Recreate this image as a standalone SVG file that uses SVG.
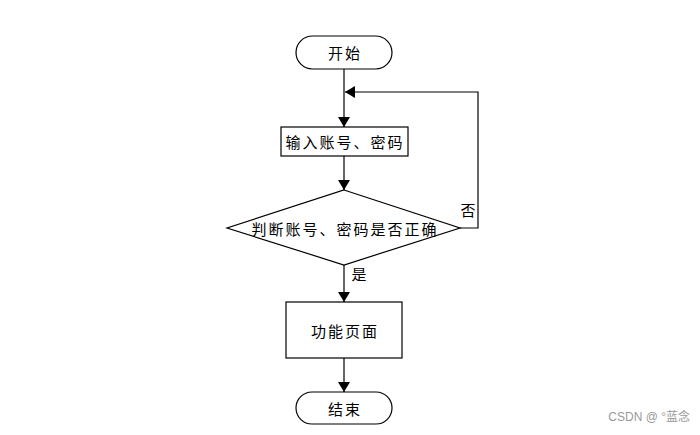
<svg xmlns="http://www.w3.org/2000/svg" width="700" height="435" viewBox="0 0 700 435">
<style>
.s{fill:#fff;stroke:#000;stroke-width:1.2}
.t{font-family:"Noto Sans CJK SC","Liberation Sans",sans-serif;font-size:15px;fill:#000;text-anchor:middle;dominant-baseline:central;letter-spacing:2px}
.c{stroke:#000;stroke-width:1.2;fill:none}
</style>
<defs>
<marker id="a" markerWidth="10" markerHeight="12" refX="10" refY="6" orient="auto" markerUnits="userSpaceOnUse">
<path d="M0,0 L10,6 L0,12 Z" fill="#000"/>
</marker>
</defs>
<rect width="700" height="435" fill="#fff"/>
<g id="connectors">
<line class="c" x1="344" y1="69" x2="344" y2="127" marker-end="url(#a)"/>
<line class="c" x1="344" y1="156" x2="344" y2="190" marker-end="url(#a)"/>
<line class="c" x1="344" y1="265" x2="344" y2="302" marker-end="url(#a)"/>
<line class="c" x1="344" y1="358" x2="344" y2="392" marker-end="url(#a)"/>
<polyline class="c" points="460,228 478,228 478,92 345,92" marker-end="url(#a)"/>
<text class="t" x="360" y="273">是</text>
<text class="t" x="469" y="209">否</text>
</g>
<g id="start">
<rect class="s" x="296" y="36" width="96" height="33" rx="16.5"/>
<text class="t" x="345" y="52.5">开始</text>
</g>
<g id="input">
<rect class="s" x="281" y="127" width="127" height="29"/>
<text class="t" x="345" y="141.5">输入账号、密码</text>
</g>
<g id="decision">
<polygon class="s" points="344,190 460,228 344,265 227,228"/>
<text class="t" x="345" y="228">判断账号、密码是否正确</text>
</g>
<g id="func">
<rect class="s" x="286" y="302" width="116" height="56"/>
<text class="t" x="345" y="330">功能页面</text>
</g>
<g id="end">
<rect class="s" x="296" y="392" width="96" height="32" rx="16"/>
<text class="t" x="345" y="408">结束</text>
</g>
<text x="690" y="421" style="font-family:'Liberation Sans','Noto Sans CJK SC',sans-serif;font-size:12px;fill:#999;text-anchor:end">CSDN @ °蓝念</text>
</svg>
